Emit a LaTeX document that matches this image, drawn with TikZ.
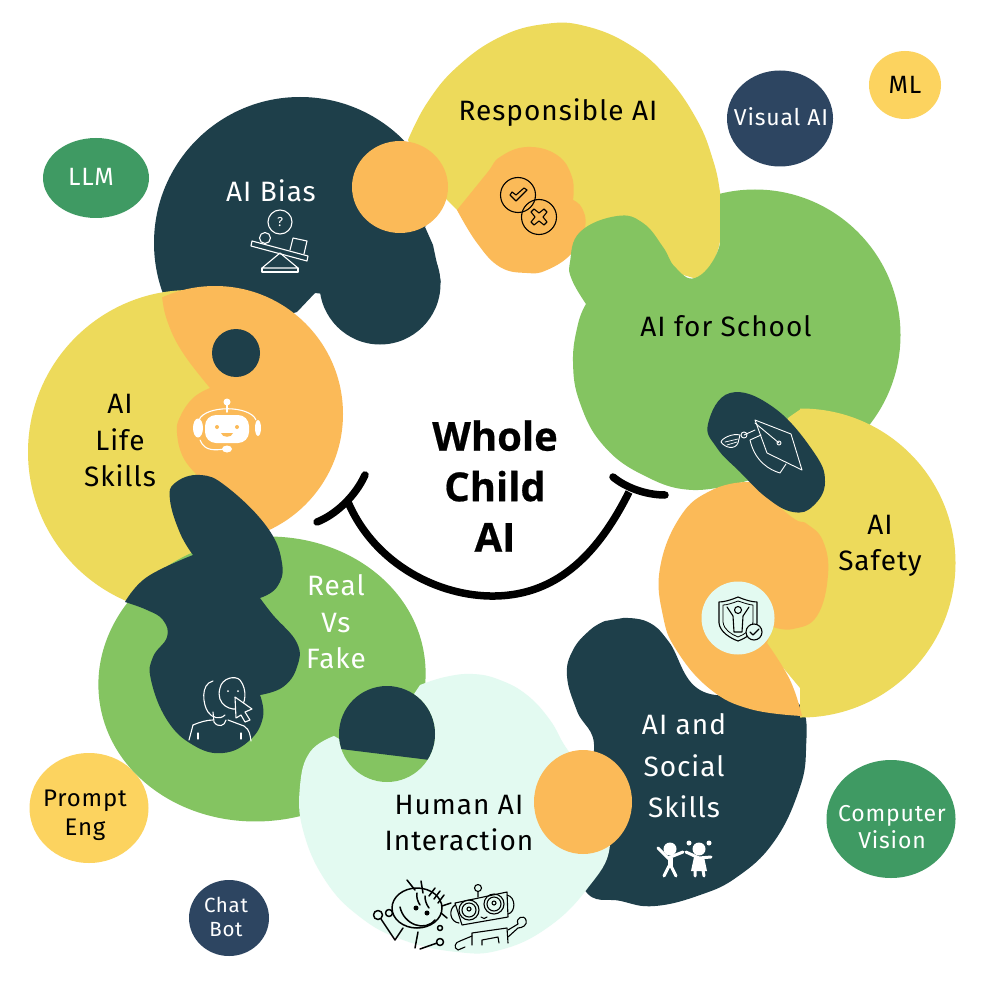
\documentclass[tikz,border=0pt]{standalone}
\usepackage{fontspec}
\setmainfont[LetterSpace=3.5]{Fira Sans}
\newfontfamily\titlefont[BoldFeatures={FakeBold=0.5}]{Open Sans}
\definecolor{cdark}{HTML}{1E3F4A}
\definecolor{cyel}{HTML}{EDDA5B}
\definecolor{cora}{HTML}{FBBA58}
\definecolor{cgrn}{HTML}{84C461}
\definecolor{cmint}{HTML}{E3FAF1}
\definecolor{cyel2}{HTML}{FCD35F}
\definecolor{cgrn2}{HTML}{3F9A63}
\definecolor{cnavy}{HTML}{2D4561}
\tikzset{
  blob/.style={smooth,tension=.72},
  blobc/.style={smooth cycle,tension=.72},
  lbl/.style={align=center,inner sep=0pt,font=\fontsize{28}{36.5}\selectfont},
  wl/.style={draw=white,line width=1.1pt,line cap=round,line join=round},
  kl/.style={draw=black,line width=1.1pt,line cap=round,line join=round},
  kl2/.style={draw=black,line width=1.5pt,line cap=round,line join=round}
}
\begin{document}
\begin{tikzpicture}[x=1pt,y=-1pt]
\useasboundingbox (0,0) rectangle (1000,1000);
\fill[white] (0,0) rectangle (1000,1000);

% small blobs
\fill[cgrn2] (96,178) ellipse (53 and 40);
\fill[cyel2] (905,85) ellipse (36 and 34);
\fill[cnavy] (780,118.5) ellipse (53 and 48);
\fill[cgrn2] (891,819) ellipse (64.5 and 59);
\fill[cyel2] (89,808) ellipse (59.5 and 55);
\fill[cnavy] (229,918) ellipse (40 and 38);

% AI Bias dark blob: main circle, clipped, and lower lobe
\begin{scope}
\clip (140,80) -- (450,80) -- (450,190) -- (425,227) -- (433,245) -- (441,283) -- (380,300) -- (315,293) -- (297,312) -- (200,340) -- (140,340) -- cycle;
\fill[cdark] (300,243) circle (146);
\end{scope}
\fill[cdark] (380,284) circle (60.5);

% Life skills yellow + orange
\begin{scope}
\clip (20,280) rectangle (230,620);
\fill[cyel] (190,452) circle (162);
\end{scope}
\begin{scope}
\clip[blob] plot coordinates {(162,285)(162,297)(168,323)(183,353)(210,388)} -- plot coordinates {(210,388)(193,398)(180,417)(177,433)(183,457)(197,475)} -- (230,560) -- (360,560) -- (360,270) -- (162,270) -- cycle;
\fill[cora] (215,414) circle (128);
\end{scope}
\fill[cdark] (236,353) circle (24);

% Real vs fake green
\fill[cgrn,rotate around={8:(262,679)}] (262,679) ellipse (164 and 142);
% dark middle shape
\fill[cdark,blob] plot coordinates {(193,555)(180,533)(170,500)(175,483)(200,475)(227,487)(267,527)(282,563)(277,587)(260,598)} -- plot coordinates {(260,598)(273,615)(297,643)(297,667)(283,687)(260,695)} -- plot coordinates {(260,695)(263,717)(250,740)(223,753)(193,745)(167,720)(151,680)(153,657)(167,637)(163,620)(147,610)(125,602)} -- plot coordinates {(125,602)(147,577)(193,555)} -- cycle;

% Social dark
\fill[cdark,blob] plot coordinates {(623,618)(648,622)(669,642)(700,690)(760,695)(800,705)(806,750)(798,793)(773,843)(737,877)(700,895)(655,906)(621,901)(584,889)(570,820)(594,750)(577,711)(567,676)(573,650)(590,630)(605,621)} -- cycle;

% Mint
\fill[cmint,blob] plot coordinates {(420,685)(445,677)(473,674)(500,680)(527,695)(550,720)(567,749)(598,790)(610,845)(587,889)(547,928)(500,950)(457,952)(403,940)(360,917)(325,880)(303,830)(300,786)(310,752)(334,736)} -- (350,745) -- (400,715) -- cycle;
% dark/green circle
\fill[cgrn] (387,734) circle (48);
\begin{scope}
\clip (330,747.7) -- (442,761.5) -- (442,680) -- (330,680) -- cycle;
\fill[cdark] (387,734) circle (48);
\end{scope}
\fill[cora] (583,802) ellipse (49 and 52);

% Responsible yellow + orange
\fill[cyel,blob] plot coordinates {(408,140)(427,103)(457,67)(500,37)(545,24)(585,26)(630,45)(667,77)(697,120)(713,160)(720,192)(722,217)(717,253)(700,280)} -- (600,250) -- (500,250) -- (457,210) -- (447,200) -- (420,170) -- cycle;
\fill[cora,blob] plot coordinates {(457,210)(487,173)(500,157)(527,147)(557,155)(572,177)(573,200)} -- plot coordinates {(573,200)(582,208)(585,227)(572,253)(547,270)(527,273)(500,267)(477,243)(457,210)} -- cycle;
\fill[cora] (400,187) ellipse (48 and 46);

% School green: right circle plus left body
\begin{scope}
\clip (720,180) rectangle (910,490);
\fill[cgrn] (755,335) circle (145.5);
\end{scope}
\fill[cgrn,blob] plot coordinates {(586,304)(572,280)(570,262)(580,232)(617,216)(643,223)(663,247)(675,267)(695,278)(717,253)(722,217)(721,195)} -- (800,300) -- (800,450) -- (750,480) -- plot coordinates {(750,480)(693,490)(643,475)(603,445)(580,403)(573,362)(578,324)(586,304)} -- cycle;

% Safety yellow + orange
\begin{scope}
\clip (800,390) rectangle (980,730);
\fill[cyel] (801,563) circle (154.5);
\end{scope}
\fill[cyel,blob] plot coordinates {(788,418)(795,413)(801,409)} -- (810,700) -- (760,640) -- (760,500) -- cycle;
\fill[cora,blob] plot coordinates {(802,716)(790,680)(767,643)} -- plot coordinates {(773,627)(793,629)(817,616)(828,575)(823,541)(807,524)(793,518)(760,490)(747,482)(710,491)(680,517)(660,568)(663,616)(677,651)(710,689)(750,709)(802,716)} -- cycle;
\fill[cdark,blobc] plot coordinates {(708,424)(730,393)(773,407)(813,451)(825,482)(813,506)(793,512)(767,498)(740,472)(717,448)};
\fill[cmint] (738,618) circle (36.5);

% smile
\draw[black,line width=7.5pt,line cap=round] (317,522) .. controls (335,515) and (355,497) .. (365,475);
\draw[black,line width=7.5pt,line cap=round] (613,477) .. controls (625,487) and (645,495) .. (665,495);
\draw[black,line width=7.5pt,line cap=butt] (348,502) .. controls (375,565) and (440,597) .. (495,596) .. controls (560,595) and (600,550) .. (629,492);

% ---- icons ----
% scale
\draw[wl] (280,222) circle (12);
\node[text=white,inner sep=0pt,font=\fontsize{13}{13}\selectfont] (qm) at (280,222) {?};
\draw[wl] (252,241) -- (308,256) -- (307,261) -- (251,246) -- cycle;
\draw[wl] (265,238) circle (5.5);
\draw[wl] (290,250) -- (293,238) -- (307,241) -- (304,254);
\draw[wl] (280,253) -- (262,268) -- (298,268) -- cycle;
\draw[wl] (262,268) -- (262,272) -- (298,272) -- (298,268);
% check and cross
\draw[kl] (518,195) circle (17.5);
\draw[kl] (539,217) circle (17.5);
\draw[kl] (510,195) -- (516,201) -- (527,190) -- (524,188) -- (516,195) -- (512,192) -- cycle;
\draw[kl] (534,209) -- (539,213) -- (544,209) -- (547,212) -- (543,217) -- (547,222) -- (544,225) -- (539,221) -- (534,225) -- (531,222) -- (535,217) -- (531,212) -- cycle;
% robot head
\fill[white,rounded corners=11pt] (205,415) rectangle (249,443);
\fill[white] (198,428) ellipse (5 and 9.5);
\draw[wl,line width=1.5pt] (227,402) -- (227,412);
\fill[white] (227,402) circle (3.5);
\draw[wl] (199,420) .. controls (205,405) and (250,405) .. (256,420);
\draw[wl] (200,440) .. controls (205,452) and (215,450) .. (226,449);
\fill[white] (227,449) ellipse (5 and 3.5);
\fill[white] (258,428) ellipse (3 and 8);
\fill[cora] (217,427) circle (2) (237,427) circle (2);
\fill[cora] (221,433) -- (233,433) .. controls (232,438) and (222,438) .. (221,433) -- cycle;
% face icon
\draw[wl] (213,681) .. controls (200,684) and (203,705) .. (208,712) .. controls (212,718) and (220,720) .. (225,715);
\draw[wl,fill=cdark] (220,688) .. controls (222,678) and (235,675) .. (240,680) .. controls (248,690) and (245,705) .. (240,708) .. controls (232,712) and (215,705) .. (220,688) -- cycle;
\fill[white] (228,691) circle (1) (238,691) circle (1);
\draw[wl,fill=cdark] (235,697) -- (252,709) -- (245,712) -- (250,720) -- (245,722) -- (241,715) -- (236,718) -- cycle;
\draw[wl] (213,712) -- (214,722) .. controls (218,728) and (225,726) .. (226,720);
\draw[wl] (193,725) .. controls (200,722) and (207,720) .. (213,720);
\draw[wl] (228,720) -- (244,726) .. controls (250,730) and (250,735) .. (251,741);
\draw[wl] (193,725) -- (189,740);
\draw[wl] (198,733) -- (198,739) (241,733) -- (241,739);
% mortarboard
\draw[wl,line width=.9pt] (755,420) -- (791,434) -- (802,470) -- (767,453) -- cycle;
\draw[wl,line width=.9pt] (750,440) -- (761,435) (750,440) .. controls (755,462) and (770,470) .. (780,473) -- (786,464);
\draw[wl,line width=.9pt] (779,443) -- (755,423);
\draw[wl,line width=.9pt] (755,430) -- (744,435);
\draw[wl,line width=.9pt] (744,435) circle (3);
\draw[wl,line width=.9pt] (740,435) .. controls (733,433) and (722,438) .. (721,442) .. controls (725,448) and (735,450) .. (738,443) -- cycle;
\draw[wl,line width=.7pt] (725,442) -- (738,439) (727,445) -- (737,442);
\draw[wl,line width=.9pt] (779,443) circle (2);
% shield
\draw[kl] (738,597) .. controls (745,600) and (752,602) .. (757,602) -- (757,623) .. controls (756,632) and (746,638) .. (738,641) .. controls (730,638) and (720,632) .. (719,623) -- (719,602) .. controls (724,602) and (731,600) .. (738,597) -- cycle;
\draw[kl,line width=.8pt] (738,601) .. controls (744,603) and (750,605) .. (753,605) -- (753,622) .. controls (752,630) and (745,634) .. (738,637) .. controls (731,634) and (724,630) .. (723,622) -- (723,605) .. controls (727,605) and (733,603) .. (738,601) -- cycle;
\draw[kl] (738,610) circle (3.5);
\draw[kl] (727,607) -- (733,616) -- (734,632) -- (742,632) -- (743,616) -- (749,607);
\draw[kl,fill=cmint] (754,632) circle (8);
\draw[kl] (750,632) -- (753,635) -- (759,629);
% kids
\fill[white] (670,849) circle (6.5) (699,849) circle (6.5);
\draw[white,line width=3pt,line cap=round] (658,848) -- (668,858) -- (683,852);
\draw[white,line width=5pt] (670,858) -- (670,866);
\draw[white,line width=3pt,line cap=round] (669,866) -- (664,876) (671,866) -- (676,876);
\draw[white,line width=3pt,line cap=round] (686,852) -- (699,858) -- (711,857);
\fill[white] (694,857) -- (704,857) -- (707,871) -- (691,871) -- cycle;
\draw[white,line width=3pt,line cap=round] (695,870) -- (695,876) (703,870) -- (704,876);
\fill[white] (689,843) circle (2.5) (709,843) circle (2.5);
% child
\draw[kl2] (417,908) ellipse (25 and 20);
\draw[kl2] (415,890) -- (407,880) (423,893) -- (421,881) (429,896) -- (435,888) (434,899) -- (440,891) (438,903) -- (444,895) (442,906) -- (451,903) (441,913) -- (447,918);
\draw[kl2] (417,893) .. controls (416,897) and (418,902) .. (420,905) (425,896) .. controls (425,900) and (426,904) .. (429,908);
\draw[kl2] (400,907) .. controls (404,925) and (425,932) .. (435,920);
\fill (416,908) circle (2.5) (427,913) circle (2.5);
\draw[kl2] (389,913) circle (3.5);
\draw[kl2] (378,915) circle (4.5);
\draw[kl2] (381,919) -- (395,940) -- (403,928);
\draw[kl2] (418,932) -- (415,948);
\draw[kl2] (420,949) -- (437,943);
\draw[kl2] (440,942) circle (3.5);
\draw[kl2] (440,928) circle (2.5);
% robot
\draw[kl] (455,903) -- (507,892) -- (508,917) -- (462,925) -- cycle;
\draw[kl] (478,888) circle (3.5) (478,892) -- (478,897);
\draw[kl] (469,910) circle (10) (469,910) circle (7) (469,909) circle (2);
\draw[kl] (494,904) circle (10) (494,904) circle (7) (494,903) circle (2);
\draw[kl] (481,917) .. controls (483,919) and (485,919) .. (487,917);
\draw[kl] (455,905) .. controls (448,910) and (450,922) .. (459,923);
\draw[kl] (507,895) .. controls (516,897) and (516,912) .. (508,914);
\draw[kl] (472,945) -- (472,933) -- (507,928) -- (508,943);
\draw[kl] (482,945) -- (482,940) -- (498,937) -- (499,943);
\draw[kl] (472,936) -- (460,941) .. controls (455,942) and (453,948) .. (458,950) -- (465,947);
\draw[kl] (508,930) -- (518,924) .. controls (515,918) and (524,914) .. (526,920) .. controls (528,925) and (522,928) .. (518,928) -- (508,937);

% ---- texts ----
\node[lbl,text=black] (resp) at (558,113) {Responsible AI};
\node[lbl,text=white] (bias) at (271,191) {AI Bias};
\node[lbl,text=black] (school) at (726,326) {AI for School};
\node[lbl,text=black] (life) at (120,441) {AI\\Life\\Skills};
\node[lbl,text=white] (real) at (336,622) {Real\\Vs\\Fake};
\node[lbl,text=black] (safety) at (880,546) {AI\\Safety};
\node[lbl,text=white,font=\fontsize{28}{41.5}\selectfont] (social) at (684,766) {AI and\\Social\\Skills};
\node[lbl,text=black] (human) at (459,823) {Human AI\\Interaction};
\node[inner sep=0pt,align=center,text=black,font=\titlefont\bfseries\fontsize{40}{50.5}\selectfont] (title) at (495,486) {Whole\\Child\\AI};
\node[inner sep=0pt,text=white,font=\fontsize{25}{27}\selectfont] (llm) at (91,177) {LLM};
\node[inner sep=0pt,text=black,font=\fontsize{25}{27}\selectfont] (ml) at (905,85) {ML};
\node[inner sep=0pt,text=white,font=\fontsize{23}{27}\selectfont] (vis) at (781,117) {Visual AI};
\node[inner sep=0pt,align=center,text=white,font=\fontsize{23}{27}\selectfont] (cv) at (892,827) {Computer\\Vision};
\node[inner sep=0pt,align=center,text=black,font=\fontsize{24}{29}\selectfont] (pe) at (85,815) {Prompt\\Eng};
\node[inner sep=0pt,align=center,text=white,font=\fontsize{20.5}{24}\selectfont] (cb) at (226,917) {Chat\\Bot};
\end{tikzpicture}
\end{document}
